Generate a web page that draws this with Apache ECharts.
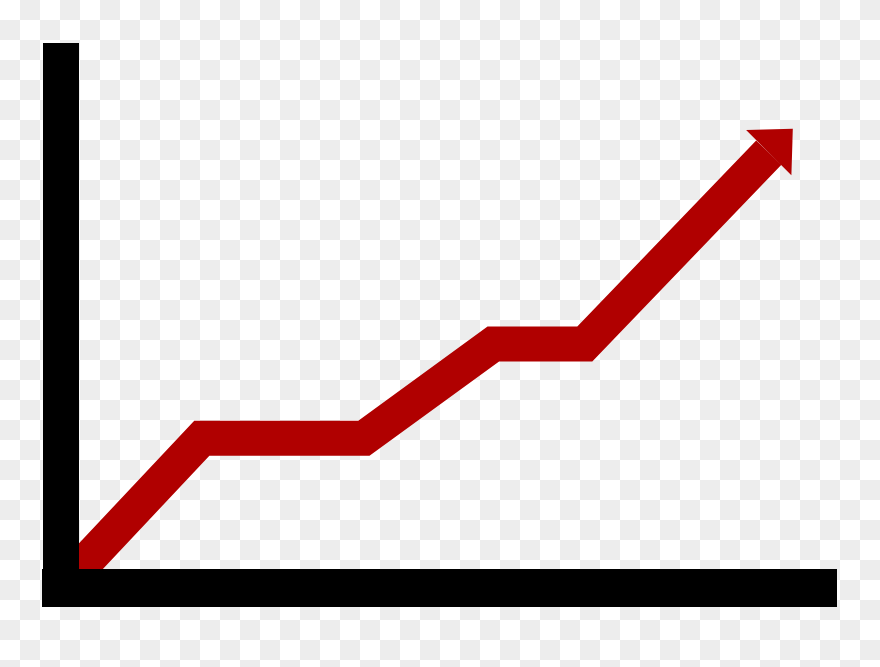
<!DOCTYPE html>
<html>
<head>
<meta charset="utf-8">
<script src="https://cdn.jsdelivr.net/npm/echarts@6/dist/echarts.min.js"></script>
<style>
html, body { margin: 0; padding: 0; width: 880px; height: 667px; overflow: hidden;
  background: repeating-conic-gradient(#ededed 0% 25%, #ffffff 0% 50%) 0 0 / 40px 40px; }
#chart { width: 880px; height: 667px; }
</style>
</head>
<body>
<div id="chart"></div>
<script>
// Data (arbitrary units)
var xValues = [0, 18.6, 40.0, 57.1, 69.2, 93.5];
var yValues = [0, 28.4, 28.4, 46.3, 46.3, 82.6];

var lastIndex = xValues.length - 1;
var seriesData = xValues.map(function (x, i) {
  var item = { value: [x, yValues[i]] };
  if (i === lastIndex) {
    item.symbol = 'triangle';
    item.symbolSize = [64, 34];
    item.symbolRotate = -45;
    item.symbolOffset = [12, -12];
    item.itemStyle = { color: '#b00000', borderWidth: 0 };
  } else {
    item.symbol = 'none';
  }
  return item;
});

var chart = echarts.init(document.getElementById('chart'), null, { renderer: 'canvas' });
chart.setOption({
  backgroundColor: 'transparent',
  animation: false,
  grid: { left: 61, right: 62, top: 61, bottom: 79, containLabel: false },
  xAxis: {
    type: 'value', min: 0, max: 100, z: 5,
    axisLine: { show: true, onZero: false, lineStyle: { color: '#000000', width: 38, cap: 'square' } },
    axisTick: { show: false }, axisLabel: { show: false }, splitLine: { show: false }
  },
  yAxis: {
    type: 'value', min: 0, max: 100, z: 5,
    axisLine: { show: true, onZero: false, lineStyle: { color: '#000000', width: 36, cap: 'square' } },
    axisTick: { show: false }, axisLabel: { show: false }, splitLine: { show: false }
  },
  series: [{
    type: 'line',
    data: seriesData,
    clip: false,
    silent: true,
    showSymbol: true,
    symbol: 'none',
    lineStyle: { color: '#b00000', width: 35, join: 'miter', miterLimit: 10, cap: 'butt' },
    itemStyle: { color: '#b00000', borderWidth: 0 },
    emphasis: { disabled: true }
  }]
});
</script>
</body>
</html>
